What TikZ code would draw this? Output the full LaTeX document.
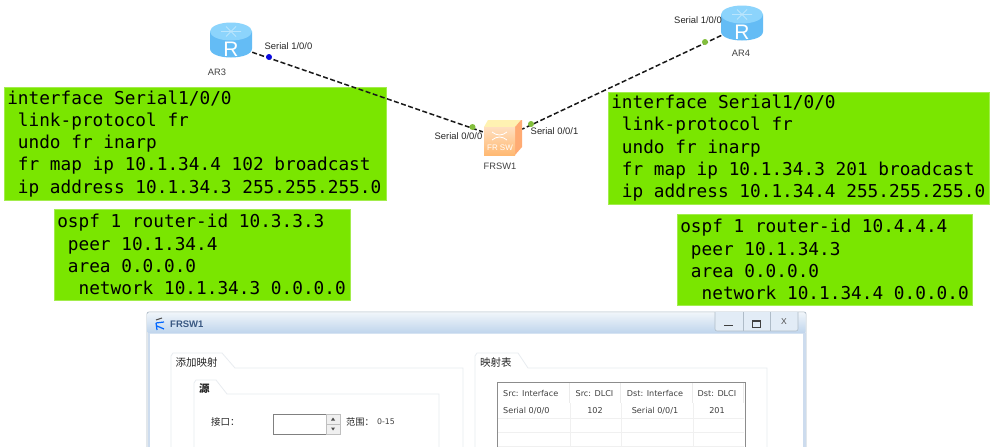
\documentclass[tikz,border=0pt]{standalone}
\usepackage{fontspec}
\setmainfont{Liberation Sans}
\newfontfamily\cfgfont{DejaVu Sans Mono}
\newfontfamily\uifont{DejaVu Sans}
\newfontfamily\cjk{Noto Sans CJK SC}
\definecolor{cfggreen}{RGB}{122,230,0}
\definecolor{linkdark}{RGB}{25,25,25}
\definecolor{portgreen}{RGB}{130,190,60}
\definecolor{portblue}{RGB}{10,10,225}
\definecolor{rtrtop}{RGB}{140,212,252}
\definecolor{rtrside}{RGB}{100,188,245}
\definecolor{winedge}{RGB}{175,188,200}
\definecolor{tabedge}{RGB}{232,236,240}
\definecolor{tbartop}{RGB}{240,245,250}
\definecolor{tbarbot}{RGB}{190,212,236}
\definecolor{winside}{RGB}{205,220,238}
\definecolor{btnfill}{RGB}{226,236,246}
\newcommand{\cfgsize}{\cfgfont\fontsize{17.75}{22.25}\selectfont}
\newcommand{\cfgsp}{\spaceskip=10.69pt\xspaceskip=10.69pt\relax}
\tikzset{
  cfgbox/.style={fill=cfggreen,draw=cfggreen!70!white,line width=.5pt,anchor=north west,inner xsep=3pt,inner ysep=0pt,align=left,font=\cfgsize,text=black},
  devlabel/.style={font=\fontsize{9.3}{10}\selectfont,text=black!75,inner sep=0pt},
  portlabel/.style={font=\fontsize{9.4}{10}\selectfont,text=black!85,inner sep=0pt},
  devnode/.style={inner sep=0pt,minimum width=#1},
  wirelink/.style={draw=linkdark,line width=1.5pt,dash pattern=on 5pt off 2.5pt},
  portdot/.style={circle,inner sep=0pt,minimum size=6pt,fill=#1},
  uitext/.style={font=\uifont\fontsize{8.1}{9}\selectfont,text=black!75,inner sep=0pt},
  cjktext/.style={font=\cjk\fontsize{10.5}{12}\selectfont,text=black!85,inner sep=0pt},
  panel/.style={draw=tabedge,line width=.8pt,fill=white},
  gridline/.style={draw=black!6,line width=.5pt},
}
\newcommand{\ind}{\hphantom{x}}
\newcommand{\routericon}[2]{%
  \fill[rtrside] (#1-21,#2-9) -- (#1-21,#2+8) .. controls (#1-21,#2+20) and (#1+21,#2+20) .. (#1+21,#2+8) -- (#1+21,#2-9) -- cycle;
  \fill[rtrtop] (#1,#2-9) ellipse[x radius=21,y radius=9];
  \draw[white,opacity=.4,line width=.8pt] (#1-10,#2-9) -- (#1+10,#2-9) (#1-5,#2-14) -- (#1+5,#2-4) (#1+5,#2-14) -- (#1-5,#2-4);
}
\begin{document}
\begin{tikzpicture}[x=1pt,y=-1pt]
\useasboundingbox (0,0) rectangle (996,447);
\clip (0,0) rectangle (996,447);
\fill[white] (0,0) rectangle (996,447);

% config boxes
\node[cfgbox,text width=376pt,minimum height=113pt] (cfg3) at (4,87) {\cfgsp interface Serial1/0/0\\\ind link-protocol fr\\\ind undo fr inarp\\\ind fr map ip 10.1.34.4 102 broadcast\\\ind ip address 10.1.34.3 255.255.255.0};
\node[cfgbox,text width=290pt,minimum height=91pt] (os3) at (54,209) {\cfgsp ospf 1 router-id 10.3.3.3\\\ind peer 10.1.34.4\\\ind area 0.0.0.0\\\ind\ind network 10.1.34.3 0.0.0.0};
\node[cfgbox,text width=375pt,minimum height=112pt] (cfg4) at (608,92) {\cfgsp interface Serial1/0/0\\\ind link-protocol fr\\\ind undo fr inarp\\\ind fr map ip 10.1.34.3 201 broadcast\\\ind ip address 10.1.34.4 255.255.255.0};
\node[cfgbox,text width=289pt,minimum height=91pt] (os4) at (677,214) {\cfgsp ospf 1 router-id 10.4.4.4\\\ind peer 10.1.34.3\\\ind area 0.0.0.0\\\ind\ind network 10.1.34.4 0.0.0.0};

% device placeholders
\node[devnode=42pt,minimum height=35pt] (AR3) at (231,40.5) {};
\node[devnode=41pt,minimum height=37pt] (AR4) at (742,23.5) {};
\node[devnode=39pt,minimum height=35pt] (FRSW1) at (502.5,137.5) {};

% links
\draw[wirelink] (AR3.-29) -- (FRSW1.164);
\draw[wirelink] (AR4.210) -- (FRSW1.23);

% routers
\routericon{231}{40.5}
\node[font=\fontsize{21}{21}\selectfont,text=white,inner sep=0pt] (R3) at (231,49) {R};
\routericon{742}{23.5}
\node[font=\fontsize{21}{21}\selectfont,text=white,inner sep=0pt] (R4) at (742,32) {R};

% switch
\fill[orange!35!yellow!30!white] (488,120) -- (521,120) -- (515,127) -- (484,127) -- cycle;
\fill[orange!80!red!55!white] (515,127) -- (521,120) -- (522,120) -- (522,147) -- (515,155) -- cycle;
\shade[top color=orange!25!white,bottom color=orange!55!white] (484,127) rectangle (515,155);
\draw[white,line width=.8pt] (492,132) .. controls (497,136) and (502,136) .. (507,132) (492,140) .. controls (497,136) and (502,136) .. (507,140);
\node[font=\fontsize{8}{8}\selectfont,text=white,inner sep=0pt] (swtxt) at (500,148) {FR SW};

% port dots
\node[portdot=portblue] (p3) at (269,57) {};
\node[portdot=portgreen] (p1) at (472.5,127) {};
\node[portdot=portgreen] (p2) at (531,124) {};
\node[portdot=portgreen] (p4) at (705,42) {};

% labels
\node[devlabel] (l3) at (217,72) {AR3};
\node[devlabel] (l4) at (741,53) {AR4};
\node[devlabel] (l5) at (500,166) {FRSW1};
\node[portlabel] (s1) at (288.5,46.5) {Serial 1/0/0};
\node[portlabel] (s2) at (458.5,136.5) {Serial 0/0/0};
\node[portlabel] (s3) at (554.5,131) {Serial 0/0/1};
\node[portlabel] (s4) at (698,20) {Serial 1/0/0};

% window
\fill[white,draw=winedge,line width=.8pt,rounded corners=2pt] (147,312) rectangle (806,460);
\shade[top color=tbartop,bottom color=tbarbot,rounded corners=2pt] (147.5,312.5) rectangle (805.5,333.5);
\fill[winside] (147.5,333) rectangle (150,460);
\fill[winside] (802.5,333) rectangle (805.5,460);
% window icon and title
\draw[black!70,line width=1pt] (156,320) -- (162,318);
\draw[blue!60!cyan,line width=1.2pt] (156,323) -- (164,322) (157,326) -- (164,329) (157,330) -- (156,323);
\node[font=\fontsize{9.5}{11}\selectfont\bfseries,text={rgb,255:red,58;green,88;blue,130},inner sep=0pt,anchor=west] (wt) at (170,324.5) {FRSW1};
% window buttons
\begin{scope}
\clip (700,312) rectangle (810,340);
\draw[winedge,fill=btnfill,line width=.6pt,rounded corners=2pt] (715,305) -- (715,331) -- (798,331) -- (798,305);
\end{scope}
\draw[winedge,line width=.6pt] (743,312) -- (743,331) (770,312) -- (770,331);
\fill[black!75] (724,324.5) rectangle (733,326);
\draw[black!75,line width=.7pt] (752,320) rectangle (760,327);
\fill[black!75] (752,319.5) rectangle (760,321.5);
\node[font=\fontsize{8.5}{9}\selectfont,text=black!70,inner sep=0pt] (wx) at (784,322) {X};

% left group
\path[panel] (171,460) -- (171,356) -- (173,353) -- (222,353) -- (235,368) -- (463,368) -- (463,460) -- cycle;
\node[cjktext,anchor=west] (tab1) at (175.5,363) {添加映射};
\path[panel] (194,460) -- (194,383) -- (196,380) -- (216,380) -- (227,394) -- (439,394) -- (439,460) -- cycle;
\node[cjktext,anchor=west,font=\cjk\bfseries\fontsize{10.5}{12}\selectfont] (tab2) at (199,389) {源};
\node[cjktext,anchor=west,font=\cjk\fontsize{9.5}{11}\selectfont] (jk) at (211,422) {接口：};
\draw[black!50,fill=white,line width=.7pt] (273,414) rectangle (326,434);
\draw[black!25,fill=black!6,line width=.6pt] (326,414) rectangle (340,424) (326,424) rectangle (340,434);
\fill[black!70] (331,420.5) -- (335,420.5) -- (333,417.5) -- cycle (331,427.5) -- (335,427.5) -- (333,430.5) -- cycle;
\node[cjktext,anchor=west,font=\cjk\fontsize{9.2}{11}\selectfont] (fw) at (346,422) {范围：};
\node[uitext,anchor=west,font=\uifont\fontsize{7.8}{9}\selectfont] (rng) at (377,422) {0-15};

% right group
\path[panel] (475,460) -- (475,356) -- (477,353) -- (518,353) -- (528,368) -- (767,368) -- (767,460) -- cycle;
\node[cjktext,anchor=west] (tab3) at (480,363) {映射表};

% table
\draw[black!45,fill=white,line width=.8pt] (497,382) rectangle (745,460);
\draw[gridline] (498,418) -- (744,418) (498,432) -- (744,432) (498,446) -- (744,446);
\draw[gridline] (570,403) -- (570,460) (621,403) -- (621,460) (693,403) -- (693,460);
\draw[black!8,line width=.8pt] (569,383) -- (569,403) (620,383) -- (620,403) (692,383) -- (692,403) (743,383) -- (743,403);
\node[uitext,anchor=west] (h1) at (503,393.5) {Src: Interface};
\node[uitext] (h2) at (594.5,393.5) {Src: DLCI};
\node[uitext] (h3) at (655,393.5) {Dst: Interface};
\node[uitext] (h4) at (717,393.5) {Dst: DLCI};
\node[uitext,anchor=west] (c1) at (503,411) {Serial 0/0/0};
\node[uitext] (c2) at (595,411) {102};
\node[uitext] (c3) at (655,411) {Serial 0/0/1};
\node[uitext] (c4) at (717,411) {201};
\end{tikzpicture}
\end{document}
